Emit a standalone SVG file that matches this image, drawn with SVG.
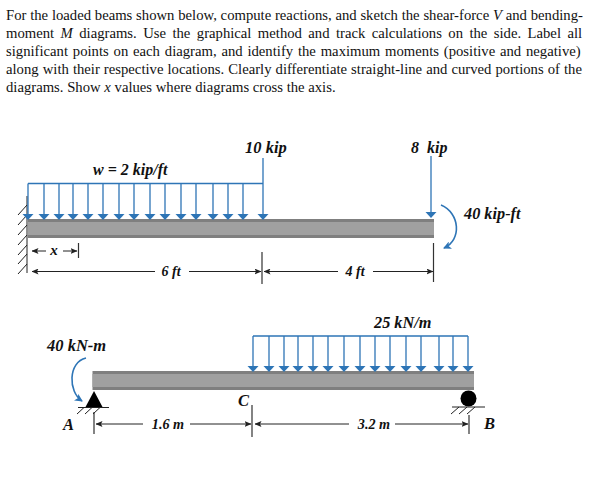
<svg xmlns="http://www.w3.org/2000/svg" width="601" height="501" viewBox="0 0 601 501">
<style>
.p{font-family:"Liberation Serif","Times New Roman",serif;font-size:14.7px;fill:#111}
.i{font-style:italic}
.l{font-family:"Liberation Serif","Times New Roman",serif;font-style:italic;font-weight:bold;fill:#111}
.load{stroke:#2e75b6;stroke-width:1.3;fill:none}
.dim{stroke:#222;stroke-width:1;fill:none}
.tick{stroke:#333;stroke-width:1.2}
.gnd{stroke:#222;stroke-width:1;fill:none}
.mom{stroke:#2e75b6;stroke-width:1.6;fill:none}
</style>
<defs>
<marker id="dh" markerWidth="7" markerHeight="6" refX="6.5" refY="3" orient="auto-start-reverse" markerUnits="userSpaceOnUse"><path d="M0 0L7 3L0 6L1.5 3Z" fill="#222"/></marker>
<marker id="mh" markerWidth="9" markerHeight="8" refX="7" refY="4" orient="auto" markerUnits="userSpaceOnUse"><path d="M0 0L8 4L0 8L2 4Z" fill="#2e75b6"/></marker>
<path id="ah" d="M-5.5 -6L5.5 -6L0 0Z" fill="#2e75b6"/>
</defs>
<g id="problem-text">
<text class="p" x="6" y="20" word-spacing="0.1">For the loaded beams shown below, compute reactions, and sketch the shear-force <tspan class="i">V</tspan> and bending-</text>
<text class="p" x="6" y="38" word-spacing="2.75">moment <tspan class="i">M</tspan> diagrams. Use the graphical method and track calculations on the side. Label all</text>
<text class="p" x="6" y="56" word-spacing="1.15">significant points on each diagram, and identify the maximum moments (positive and negative)</text>
<text class="p" x="6" y="74" word-spacing="0.4">along with their respective locations. Clearly differentiate straight-line and curved portions of the</text>
<text class="p" x="6" y="92">diagrams. Show <tspan class="i">x</tspan> values where diagrams cross the axis.</text>
</g>
<g id="beam1">
<rect x="28" y="219" width="406" height="19" fill="#7f7f7f"/>
<rect x="28" y="222" width="406" height="13" fill="#a0a0a0"/>
</g>
<g id="wall">
<path class="gnd" stroke-width="1.3" d="M27 196V273M27 205L18 215M27 215L18 225M27 225L18 235M27 235L18 245M27 245L18 255M27 254L18 264M27 264L18 274"/>
</g>
<g id="load1">
<path class="load" d="M28 183.5H263M28 183.5V216M44 183.5V216M59 183.5V216M73 183.5V216M88 183.5V216M103 183.5V216M119 183.5V216M134 183.5V216M150 183.5V216M165 183.5V216M181 183.5V216M196 183.5V216M213 183.5V216M228 183.5V216M243 183.5V216M263 158V216"/>
<use href="#ah" x="28" y="220"/><use href="#ah" x="44" y="220"/><use href="#ah" x="59" y="220"/><use href="#ah" x="73" y="220"/><use href="#ah" x="88" y="220"/><use href="#ah" x="103" y="220"/><use href="#ah" x="119" y="220"/><use href="#ah" x="134" y="220"/><use href="#ah" x="150" y="220"/><use href="#ah" x="165" y="220"/><use href="#ah" x="181" y="220"/><use href="#ah" x="196" y="220"/><use href="#ah" x="213" y="220"/><use href="#ah" x="228" y="220"/><use href="#ah" x="243" y="220"/><use href="#ah" x="263" y="220"/>
<text class="l" x="93" y="175" font-size="16">w = 2 kip/ft</text>
<text class="l" x="245" y="153" font-size="16.5">10 kip</text>
</g>
<g id="force8">
<path class="load" stroke-width="1.6" d="M431 156V214"/>
<use href="#ah" x="431" y="218"/>
<text class="l" x="411" y="153" font-size="16" xml:space="preserve">8  kip</text>
</g>
<g id="moment40">
<path class="mom" d="M441 205C460 213 462 240 444 248" marker-end="url(#mh)"/>
<text class="l" x="464" y="219" font-size="16.3">40 kip-ft</text>
</g>
<g id="connectors">
<path class="dim" d="M46 251H32" marker-end="url(#dh)"/>
<path class="dim" d="M63 251H77" marker-end="url(#dh)"/>
<path class="tick" d="M78.5 243V258M262 252V284M433.5 243V282"/>
<path class="dim" d="M155 271.5H32" marker-end="url(#dh)"/>
<path class="dim" d="M189 271.5H261" marker-end="url(#dh)"/>
<path class="dim" d="M338 271.5H264" marker-end="url(#dh)"/>
<path class="dim" d="M373 271.5H433" marker-end="url(#dh)"/>
<path class="tick" d="M94 412V434M252 405V437M469 415V434"/>
<path class="dim" d="M143 424H96" marker-end="url(#dh)"/>
<path class="dim" d="M190 424H251" marker-end="url(#dh)"/>
<path class="dim" d="M349 424H255" marker-end="url(#dh)"/>
<path class="dim" d="M395 424H468" marker-end="url(#dh)"/>
<text class="l" x="54" y="255" font-size="15" text-anchor="middle">x</text>
<text class="l" x="171" y="276" font-size="14" text-anchor="middle">6 ft</text>
<text class="l" x="355" y="276" font-size="14" text-anchor="middle">4 ft</text>
<text class="l" x="168" y="429" font-size="14.2" text-anchor="middle">1.6 m</text>
<text class="l" x="374" y="429" font-size="14.2" text-anchor="middle">3.2 m</text>
</g>
<g id="beam2">
<rect x="92.5" y="371" width="381.5" height="19" fill="#7f7f7f"/>
<rect x="92.5" y="374" width="381.5" height="13" fill="#a0a0a0"/>
</g>
<g id="load2">
<path class="load" d="M253 336H468M253 336V368M269 336V368M284 336V368M298 336V368M313 336V368M328 336V368M344 336V368M360 336V368M375 336V368M390 336V368M406 336V368M421 336V368M439 336V368M453 336V368M468 336V368"/>
<use href="#ah" x="253" y="372"/><use href="#ah" x="269" y="372"/><use href="#ah" x="284" y="372"/><use href="#ah" x="298" y="372"/><use href="#ah" x="313" y="372"/><use href="#ah" x="328" y="372"/><use href="#ah" x="344" y="372"/><use href="#ah" x="360" y="372"/><use href="#ah" x="375" y="372"/><use href="#ah" x="390" y="372"/><use href="#ah" x="406" y="372"/><use href="#ah" x="421" y="372"/><use href="#ah" x="439" y="372"/><use href="#ah" x="453" y="372"/><use href="#ah" x="468" y="372"/>
<text class="l" x="374" y="328" font-size="16.3">25 kN/m</text>
</g>
<g id="moment40kN">
<path class="mom" d="M86 358C68 362 68 392 82 401" marker-end="url(#mh)"/>
<text class="l" x="47" y="351" font-size="16.5">40 kN-m</text>
</g>
<g id="supportA">
<path d="M94 391L102.5 407H85.5Z" fill="#000"/>
<path class="gnd" stroke-width="1.3" d="M78 407.5H109M84 407.5L77 414M92 407.5L85 414M100 407.5L93 414"/>
<text class="l" x="63" y="430" font-size="16.5">A</text>
</g>
<g id="supportB">
<circle cx="468.5" cy="398.5" r="8" fill="#000"/>
<path class="gnd" stroke-width="1.3" d="M452 407H485M459 407L451 414M467 407L459 414M475 407L467 414"/>
<text class="l" x="484" y="429" font-size="16.5">B</text>
</g>
<g id="pointC">
<text class="l" x="238" y="406" font-size="16.5">C</text>
</g>
</svg>
